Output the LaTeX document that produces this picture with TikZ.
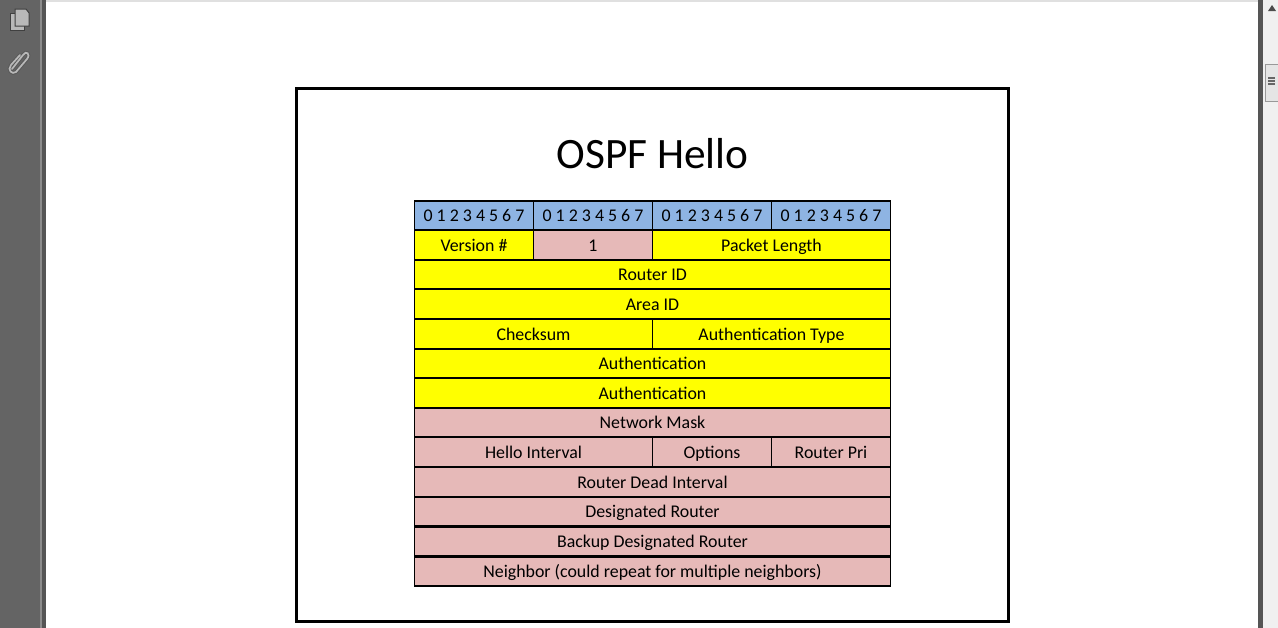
\documentclass[tikz,border=0pt]{standalone}
\usepackage{fontspec}
\setmainfont{Carlito}
\definecolor{barGrey}{HTML}{646464}
\definecolor{edgeGrey}{HTML}{555555}
\definecolor{scrollGrey}{HTML}{F0F0F0}
\definecolor{iconGrey}{HTML}{B8B8B8}
\definecolor{headBlue}{HTML}{8EB4E3}
\definecolor{cellPink}{HTML}{E6B9B8}
\definecolor{cellYellow}{RGB}{255,255,0}
\tikzset{
  cell/.style={draw=black, line width=0.8pt},
  label/.style={font=\fontsize{13.4}{16}\selectfont, text=black, text height=9pt, text depth=2.5pt, inner sep=0pt, yshift=-1.3pt},
  icon/.style={draw=black!75, fill=iconGrey, line width=0.75pt}
}
\begin{document}
\begin{tikzpicture}[x=0.75pt,y=-0.75pt]
\useasboundingbox (0,0) rectangle (1278,628);
% window
\fill [white] (0,0) rectangle (1278,628);
\fill [black!12] (46,0) rectangle (1258,2);
\fill [barGrey] (0,0) rectangle (40,628);
\fill [black!45] (40,0) rectangle (42,628);
\fill [edgeGrey] (42,0) rectangle (46,628);
\fill [edgeGrey] (1258,0) rectangle (1263,628);
\fill [scrollGrey] (1263,0) rectangle (1278,628);
\fill [black!70] (1268,11) -- (1272,5) -- (1276,11) -- cycle;
\draw [draw=black!40, fill=black!10, line width=0.75pt] (1265,64) rectangle (1279,101);
\foreach \y in {78,81,84} \draw [black!60, line width=1pt] (1268,\y) -- (1275,\y);
% icons
\draw [icon] (10,13) rectangle (24,30);
\draw [icon] (15,9) -- (26,9) -- (29,13) -- (29,26) -- (15,26) -- cycle;
\draw [black!65, line width=2.8pt, line cap=round] (12,69) -- (23,55) .. controls (26,50) and (31,54) .. (27,59) -- (16,72) .. controls (12,75) and (7,70) .. (11,65) -- (20,55);
\draw [black!28, line width=1.3pt, line cap=round] (12,69) -- (23,55) .. controls (26,50) and (31,54) .. (27,59) -- (16,72) .. controls (12,75) and (7,70) .. (11,65) -- (20,55);
% slide frame
\draw [line width=2.25pt] (296.5,88.5) rectangle (1008.5,621.5);
\node [font=\fontsize{32.5}{38}\selectfont, inner sep=0pt] (title) at (652.5,154) {OSPF Hello};
% header row
\foreach \n/\xa/\xb in {a/414.5/533.5, b/533.5/652.5, c/652.5/771.5, d/771.5/890.5}
  \draw [cell, fill=headBlue] (\xa,201) rectangle (\xb,230)
    node [label, midway] (head\n) {0 1 2 3 4 5 6 7};
% yellow fields
\draw [cell, fill=cellYellow] (414.5,230) rectangle (533.5,260) node [label, midway] (version) {Version \#};
\draw [cell, fill=cellPink] (533.5,230) rectangle (652.5,260) node [label, midway] (type) {1};
\draw [cell, fill=cellYellow] (652.5,230) rectangle (890.5,260) node [label, midway] (length) {Packet Length};
\draw [cell, fill=cellYellow] (414.5,260) rectangle (890.5,289) node [label, midway] (routerid) {Router ID};
\draw [cell, fill=cellYellow] (414.5,289) rectangle (890.5,319) node [label, midway] (areaid) {Area ID};
\draw [cell, fill=cellYellow] (414.5,319) rectangle (652.5,349) node [label, midway] (checksum) {Checksum};
\draw [cell, fill=cellYellow] (652.5,319) rectangle (890.5,349) node [label, midway] (authtype) {Authentication Type};
\draw [cell, fill=cellYellow] (414.5,349) rectangle (890.5,378) node [label, midway] (autha) {Authentication};
\draw [cell, fill=cellYellow] (414.5,378) rectangle (890.5,408) node [label, midway] (authb) {Authentication};
% pink fields
\draw [cell, fill=cellPink] (414.5,408) rectangle (890.5,437) node [label, midway] (mask) {Network Mask};
\draw [cell, fill=cellPink] (414.5,437) rectangle (652.5,467) node [label, midway] (hello) {Hello Interval};
\draw [cell, fill=cellPink] (652.5,437) rectangle (771.5,467) node [label, midway] (options) {Options};
\draw [cell, fill=cellPink] (771.5,437) rectangle (890.5,467) node [label, midway] (pri) {Router Pri};
\draw [cell, fill=cellPink] (414.5,467) rectangle (890.5,497) node [label, midway] (dead) {Router Dead Interval};
\draw [cell, fill=cellPink] (414.5,497) rectangle (890.5,526) node [label, midway] (dr) {Designated Router};
\draw [cell, fill=cellPink] (414.5,527) rectangle (890.5,556) node [label, midway] (bdr) {Backup Designated Router};
\draw [cell, fill=cellPink] (414.5,557) rectangle (890.5,586) node [label, midway] (neighbor) {Neighbor (could repeat for multiple neighbors)};
\end{tikzpicture}
\end{document}
